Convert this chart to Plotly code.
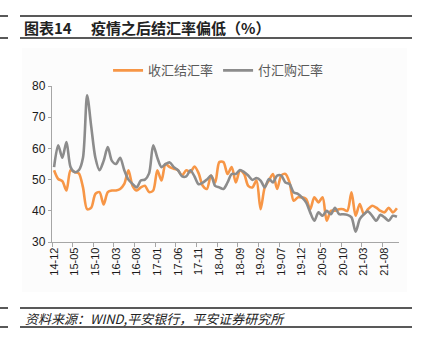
import plotly.graph_objects as go

# months 2014-12 .. 2021-11
months = []
y, m = 2014, 12
for _ in range(84):
    months.append(f"{y % 100:02d}-{m:02d}")
    m += 1
    if m > 12:
        m = 1
        y += 1

settle_rate = [53, 50.2, 49.5, 46.5, 53, 52.4, 52, 47.5, 40.5, 41,
               45.4, 46, 42, 46, 46.5, 46.5, 47, 48.6, 53, 48,
               46.5, 47.5, 48, 46, 46.5, 53, 49.7, 55, 54, 53.5,
               53, 51.3, 53, 52.4, 54.2, 52, 48, 47, 51.3, 49.1,
               55.6, 55.6, 51.8, 54, 49.1, 52.9, 51.8, 48, 47.5, 49.7,
               40.5, 47.5, 49.7, 51.8, 47, 51.3, 51.8, 49.1, 43.2, 44.3,
               44.3, 43.8, 40.5, 44.3, 42.7, 44.3, 36.8, 40, 40, 40.5,
               40.5, 40, 45.9, 38.4, 42.2, 38.9, 40.5, 41.6, 41, 40,
               39.5, 41, 39.5, 40.8]

purchase_rate = [54, 61, 57, 62, 54, 52.4, 53, 57, 77, 67,
                 57, 53, 56, 60.4, 56, 55, 57, 53, 50, 48.6,
                 47.5, 49.7, 50, 52, 61, 57, 54, 55, 55.5, 54,
                 53, 51, 51, 53, 51, 48.5, 49, 50, 51.3, 48,
                 47.5, 47, 49.1, 51.8, 51.8, 53.1, 52.4, 51.3, 49.9, 50.5,
                 49.7, 47.5, 50.2, 49.1, 51.3, 51.3, 49.1, 48.6, 45.9, 45.4,
                 44.3, 42.7, 39.5, 36.8, 39.5, 38.4, 40, 38.9, 41, 38.9,
                 38.9, 38.7, 37.9, 33.3, 37.3, 38.9, 39.8, 38.4, 36.8, 38.7,
                 37.9, 36.8, 38.4, 38.1]

y_ticks = [30, 40, 50, 60, 70, 80]

W, H = 425, 345
L, R, T, B = 52, 26, 86, 103
pw, ph = W - L - R, H - T - B

fig = go.Figure()
fig.add_trace(go.Scatter(x=months, y=settle_rate, name="收汇结汇率", mode="lines",
                         line=dict(color="#F79646", width=2.6, shape="spline", smoothing=0.8)))
fig.add_trace(go.Scatter(x=months, y=purchase_rate, name="付汇购汇率", mode="lines",
                         line=dict(color="#8C8C8C", width=2.6, shape="spline", smoothing=0.8)))

fig.update_layout(
    width=W, height=H,
    margin=dict(l=L, r=R, t=T, b=B),
    paper_bgcolor="white", plot_bgcolor="white",
    font=dict(family="Liberation Sans, Noto Sans CJK SC", color="#000000", size=12),
    showlegend=True,
    legend=dict(orientation="h", x=0.48, xanchor="center", y=1.10, yanchor="middle",
                font=dict(family="Noto Sans CJK SC", size=13, color="#595959"),
                itemwidth=30, tracegroupgap=0, bgcolor="rgba(0,0,0,0)"),
)
fig.update_xaxes(type="category", tickmode="linear", tick0=0, dtick=5,
                 tickson="boundaries", range=[-0.5, 83.5],
                 tickangle=-90, tickfont=dict(size=11, color="#1a1a1a"),
                 showline=True, linecolor="#A6A6A6", linewidth=1.3,
                 ticks="outside", ticklen=4, tickcolor="#A6A6A6",
                 showgrid=False, zeroline=False)
fig.update_yaxes(range=[30, 80], tickvals=y_ticks, ticktext=[str(v) for v in y_ticks],
                 tickfont=dict(size=12, color="#1a1a1a"),
                 showline=True, linecolor="#A6A6A6", linewidth=1.3,
                 ticks="outside", ticklen=3, tickcolor="#A6A6A6",
                 showgrid=False, zeroline=False)


def fx(p):
    return (p - L) / pw


def fy(p):
    return (H - B - p) / ph


shapes = []
for yy in [16, 38, 308, 327]:
    shapes.append(dict(type="line", xref="paper", yref="paper",
                       x0=fx(20), x1=fx(412), y0=fy(yy), y1=fy(yy),
                       line=dict(color="#222222", width=1.5)))
    shapes.append(dict(type="line", xref="paper", yref="paper",
                       x0=fx(0), x1=fx(8), y0=fy(yy), y1=fy(yy),
                       line=dict(color="#222222", width=1.5)))
shapes.append(dict(type="rect", xref="paper", yref="paper", layer="below",
                   x0=fx(22), x1=fx(407), y0=fy(292), y1=fy(48),
                   fillcolor="#FCFCFC", line=dict(width=0)))
fig.update_layout(shapes=shapes)

fig.update_layout(annotations=[
    dict(text="<b>图表14</b>", xref="paper", yref="paper", showarrow=False,
         x=fx(22), y=fy(27), xanchor="left", yanchor="middle",
         font=dict(family="Noto Sans CJK SC", size=15, color="#222222")),
    dict(text="<b>疫情之后结汇率偏低（%）</b>", xref="paper", yref="paper", showarrow=False,
         x=fx(89), y=fy(27), xanchor="left", yanchor="middle",
         font=dict(family="Noto Sans CJK SC", size=15, color="#222222")),
    dict(text="<i>资料来源：WIND,平安银行，平安证券研究所</i>", xref="paper", yref="paper",
         showarrow=False, x=fx(23), y=fy(318), xanchor="left", yanchor="middle",
         font=dict(family="Noto Sans CJK SC", size=13, color="#222222")),
])

fig.write_html("out.html")
